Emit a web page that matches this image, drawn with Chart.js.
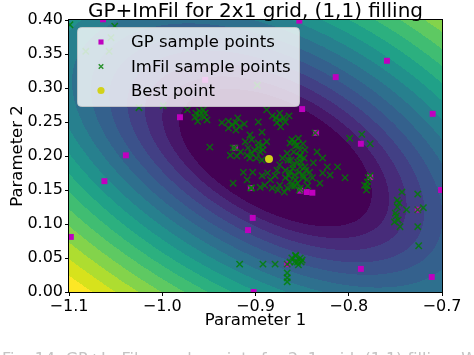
<!DOCTYPE html>
<html><head><meta charset="utf-8">
<script src="https://cdn.jsdelivr.net/npm/chart.js@4.4.0/dist/chart.umd.min.js"></script>
<style>html,body{margin:0;padding:0;background:#fff;overflow:hidden}canvas{display:block}</style>
</head><body>
<canvas id="c" width="474" height="355"></canvas>
<script>
// ---- data ----
const gpX = [-1.0635,-0.853,-0.759,-0.814,-0.954,-0.850,-0.710,-0.981,-1.039,-1.062,-0.787,-0.852,-0.845,-0.839,-0.701,-0.903,-0.908,-1.098,-0.787,-0.711,-0.902,-0.835,-0.922,-0.905,-0.777,-0.726,-0.866];
const gpY = [0.401,0.399,0.340,0.316,0.312,0.269,0.262,0.257,0.201,0.163,0.218,0.149,0.147,0.146,0.150,0.109,0.091,0.081,0.034,0.022,0.000,0.234,0.212,0.153,0.169,0.121,0.041];

const imfilX = [-0.960,-0.964,-0.955,-0.960,-0.954,-0.973,-0.956,-0.936,-0.925,-0.929,-0.921,-0.917,-0.919,-0.897,-0.888,-0.874,-0.874,-0.877,-0.870,-0.878,
  -0.906,-0.893,-0.888,-0.897,-0.892,-0.904,-0.901,-0.895,-0.909,-0.906,-0.927,-0.924,-0.949,-0.863,-0.858,-0.854,-0.855,-0.852,-0.853,-0.851,
  -0.852,-0.866,-0.871,-0.865,-0.874,-0.860,-0.877,-0.863,-0.858,-0.849,-0.868,-0.847,-0.842,-0.838,-0.828,-0.831,-0.863,-0.874,-0.866,-0.858,
  -0.855,-0.909,-0.903,-0.895,-0.904,-0.887,-0.884,-0.913,-0.924,-0.845,-0.852,-0.834,-0.828,-0.823,-0.836,-0.812,-0.804,-0.820,-0.922,-0.905,
  -0.799,-0.786,-0.777,-0.780,-0.779,-0.783,-0.777,-0.743,-0.726,-0.748,-0.748,-0.750,-0.747,-0.745,-0.738,-0.720,-0.726,-0.726,-0.725,
  -0.917,-0.892,-0.879,-0.866,-0.855,-0.861,-0.852,-0.854,-0.858,-0.866,-0.866,-0.866,-0.857,-0.850,
  -1.099,-1.051,-1.082,-1.057,-1.055,-1.025,-0.999,-0.898,
  -0.861,-0.857,-0.849,-0.859,-0.852,-0.847,-0.862,-0.855,-0.848,-0.860,-0.853,-0.846,-0.864,-0.857,-0.849,-0.861,-0.853,-0.844,-0.839,-0.868,
  -0.911,-0.904,-0.897,-0.892,-0.908,-0.916,-0.899,-0.893,-0.920,
  -0.890,-0.882,-0.876,-0.869,-0.879,-0.893,
  -0.965,-0.952,-0.962,-0.929,-0.921,-0.912,-0.882,-0.868,-0.873,-0.864,
  -0.780,-0.781,-0.749,-0.746,-0.751,-0.857,-0.851,-0.863];
const imfilY = [0.260,0.263,0.257,0.266,0.263,0.268,0.268,0.249,0.246,0.251,0.249,0.243,0.256,0.250,0.268,0.263,0.253,0.249,0.256,0.256,
  0.231,0.235,0.221,0.213,0.216,0.204,0.209,0.206,0.201,0.197,0.201,0.212,0.213,0.219,0.221,0.226,0.216,0.209,0.200,0.191,
  0.184,0.204,0.197,0.194,0.187,0.187,0.179,0.176,0.172,0.172,0.168,0.184,0.176,0.190,0.175,0.160,0.162,0.157,0.153,0.156,
  0.160,0.165,0.176,0.154,0.153,0.175,0.165,0.176,0.160,0.165,0.153,0.206,0.197,0.184,0.234,0.184,0.168,0.172,0.212,0.153,
  0.226,0.232,0.218,0.162,0.168,0.157,0.171,0.147,0.144,0.135,0.125,0.116,0.106,0.096,0.121,0.124,0.121,0.096,0.068,
  0.041,0.041,0.041,0.041,0.044,0.050,0.050,0.040,0.044,0.028,0.021,0.015,0.053,0.047,
  0.393,0.391,0.354,0.354,0.374,0.271,0.274,0.304,
  0.224,0.215,0.218,0.206,0.200,0.209,0.194,0.191,0.197,0.182,0.176,0.179,0.171,0.165,0.168,0.156,0.150,0.156,0.168,0.179,
  0.221,0.224,0.219,0.209,0.212,0.206,0.197,0.194,0.200,
  0.157,0.153,0.150,0.147,0.171,0.171,
  0.257,0.253,0.251,0.241,0.238,0.247,0.259,0.250,0.243,0.259,
  0.156,0.150,0.112,0.131,0.103,0.054,0.044,0.044];

const bestX = [-0.8855];
const bestY = [0.1956];

const seriesLabels = ['GP sample points','ImFil sample points','Best point'];
const xTickValues = [-1.1,-1.0,-0.9,-0.8,-0.7];
const xTickLabels = ['\u22121.1','\u22121.0','\u22120.9','\u22120.8','\u22120.7'];
const yTickValues = [0,0.05,0.1,0.15,0.2,0.25,0.3,0.35,0.4];
const yTickLabels = ['0.00','0.05','0.10','0.15','0.20','0.25','0.30','0.35','0.40'];
const titleText = 'GP+ImFil for 2x1 grid, (1,1) filling';
const xTitle = 'Parameter 1';
const yTitle = 'Parameter 2';

// background model surface: minimum location, tilt, band widths
const surfaceMinX = -0.879, surfaceMinY = 0.194;
const surfaceTiltDeg = 28;
const surfaceBandMajor = 18.17, surfaceBandMinorLow = 8.65, surfaceBandMinorHigh = 10, surfacePlateau = 4.78;
const surfaceCurvature = 0.00875;

// viridis colour map anchors
const viridis = ['#440154','#471365','#482475','#46337e','#414487','#3b528b','#355f8d','#31688e','#2a788e','#26828e','#21918c','#1f9e89','#22a884','#35b779','#44bf70','#5ec962','#7ad151','#9fda3a','#bddf26','#dfe318','#fde725'];
const vRGB = viridis.map(h=>[parseInt(h.slice(1,3),16),parseInt(h.slice(3,5),16),parseInt(h.slice(5,7),16)]);
function cmap(t){
  t=Math.max(0,Math.min(1,t)); const p=t*(vRGB.length-1); const i=Math.min(vRGB.length-2,Math.floor(p)); const f=p-i;
  return [0,1,2].map(k=>Math.round(vRGB[i][k]*(1-f)+vRGB[i+1][k]*f));
}

const FONT = 'DejaVu Sans';

const contourPlugin = {
  id:'contour',
  beforeDatasetsDraw(chart){
    const {ctx, chartArea:a, scales:{x,y}} = chart;
    const L=Math.round(a.left), T=Math.round(a.top), W=Math.round(a.right)-L, H=Math.round(a.bottom)-T;
    const cx=x.getPixelForValue(surfaceMinX), cy=y.getPixelForValue(surfaceMinY);
    const th=surfaceTiltDeg*Math.PI/180, c=Math.cos(th), s=Math.sin(th);
    const vals=new Float32Array(W*H); let vmax=0;
    for(let j=0;j<H;j++){for(let i=0;i<W;i++){
      const dx=L+i+0.5-cx, dy=T+j+0.5-cy;
      const s1=dx*c+dy*s, s2=-dx*s+dy*c;
      const b=s2>0?surfaceBandMinorLow:surfaceBandMinorHigh;
      const r=Math.hypot(s1/surfaceBandMajor, s2/b);
      let v=Math.max(0,r-surfacePlateau);
      v=v-surfaceCurvature*v*v;
      vals[j*W+i]=v; if(v>vmax)vmax=v;
    }}
    const top=Math.floor(vmax);
    const img=ctx.createImageData(W,H);
    const cache={};
    for(let k=0;k<W*H;k++){
      const lv=Math.min(top,Math.floor(vals[k]));
      const col=cache[lv]||(cache[lv]=cmap(lv/top));
      img.data[4*k]=col[0];img.data[4*k+1]=col[1];img.data[4*k+2]=col[2];img.data[4*k+3]=255;
    }
    ctx.putImageData(img,L,T);
  },
  afterDatasetsDraw(chart){
    const {ctx, chartArea:a} = chart;
    ctx.save(); ctx.strokeStyle='#000'; ctx.lineWidth=1;
    ctx.strokeRect(Math.round(a.left)-0.5, Math.round(a.top)-0.5, Math.round(a.right)-Math.round(a.left)+1, Math.round(a.bottom)-Math.round(a.top)+1);
    ctx.restore();
  }
};

const decorPlugin = {
  id:'decor',
  afterDraw(chart){
    const {ctx, chartArea:a} = chart;
    ctx.save();
    ctx.fillStyle='#000'; ctx.font='20px "'+FONT+'"'; ctx.textAlign='center'; ctx.textBaseline='alphabetic';
    ctx.fillText(titleText,(a.left+a.right)/2,17);
    const bx=77.5, by=27.5, bw=222, bh=79;
    ctx.beginPath(); ctx.roundRect(bx,by,bw,bh,4);
    ctx.fillStyle='rgba(255,255,255,0.8)'; ctx.fill();
    ctx.strokeStyle='rgba(204,204,204,0.8)'; ctx.lineWidth=1; ctx.stroke();
    const rows=[42,66.5,90.5];
    chart.data.datasets.forEach((ds,i)=>{
      const yy=rows[i];
      const o={pointStyle:ds.pointStyle, radius:ds.legendRadius, rotation:0, borderWidth:ds.borderWidth||0};
      ctx.fillStyle=ds.backgroundColor; ctx.strokeStyle=ds.borderColor; ctx.lineWidth=ds.borderWidth||1;
      Chart.helpers.drawPoint(ctx,o,101,yy);
      ctx.fillStyle='#000'; ctx.font='16.5px "'+FONT+'"'; ctx.textAlign='left'; ctx.textBaseline='middle';
      ctx.fillText(ds.label,131,yy+1);
    });
    ctx.fillStyle='#c4c4c4'; ctx.font='16px "'+FONT+'"'; ctx.textAlign='left'; ctx.textBaseline='alphabetic';
    ctx.fillText('Fig. 14: GP+ImFil sample points for 2x1 grid, (1,1) filling. W',2,364);
    ctx.restore();
  }
};

const pts=(xs,ys)=>xs.map((v,i)=>({x:v,y:ys[i]}));

new Chart(document.getElementById('c'),{
  type:'scatter',
  data:{datasets:[
    {label:seriesLabels[0], data:pts(gpX,gpY), pointStyle:'rect', pointRadius:4.2, pointHoverRadius:4.2, backgroundColor:'#bf00bf', borderColor:'#bf00bf', borderWidth:0, legendRadius:3.6, order:3},
    {label:seriesLabels[1], data:pts(imfilX,imfilY), pointStyle:'crossRot', pointRadius:4.5, pointHoverRadius:4.5, backgroundColor:'rgba(0,128,0,0.8)', borderColor:'rgba(0,128,0,0.8)', borderWidth:1.5, legendRadius:3.2, order:2},
    {label:seriesLabels[2], data:pts(bestX,bestY), pointStyle:'circle', pointRadius:4, pointHoverRadius:4, backgroundColor:'#d2d21a', borderColor:'#d2d21a', borderWidth:0, legendRadius:3.6, order:1}
  ]},
  options:{
    responsive:false, animation:false, devicePixelRatio:1,
    layout:{padding:{top:20,right:32,left:0,bottom:0}},
    plugins:{legend:{display:false}, title:{display:false}, tooltip:{enabled:false}},
    scales:{
      x:{type:'linear', min:-1.1, max:-0.7,
        afterBuildTicks:s=>{s.ticks=xTickValues.map(v=>({value:v}));},
        afterFit:s=>{s.height=63;},
        ticks:{callback:v=>xTickLabels[xTickValues.findIndex(t=>Math.abs(t-v)<1e-9)], font:{family:FONT,size:16}, color:'#000', padding:1, maxRotation:0, autoSkip:false},
        grid:{drawOnChartArea:false, tickLength:4, tickColor:'#000', tickWidth:1},
        border:{display:false},
        title:{display:true, text:xTitle, font:{family:FONT,size:16.5}, color:'#000', padding:{top:0,bottom:24}}
      },
      y:{type:'linear', min:0, max:0.4,
        afterBuildTicks:s=>{s.ticks=yTickValues.map(v=>({value:v}));},
        afterFit:s=>{s.width=69;},
        ticks:{callback:v=>yTickLabels[yTickValues.findIndex(t=>Math.abs(t-v)<1e-9)], font:{family:FONT,size:16}, color:'#000', padding:2, autoSkip:false},
        grid:{drawOnChartArea:false, tickLength:4, tickColor:'#000', tickWidth:1},
        border:{display:false},
        title:{display:true, text:yTitle, font:{family:FONT,size:16.5}, color:'#000', padding:{top:8,bottom:0}}
      }
    }
  },
  plugins:[contourPlugin, decorPlugin]
});
</script>
</body></html>
